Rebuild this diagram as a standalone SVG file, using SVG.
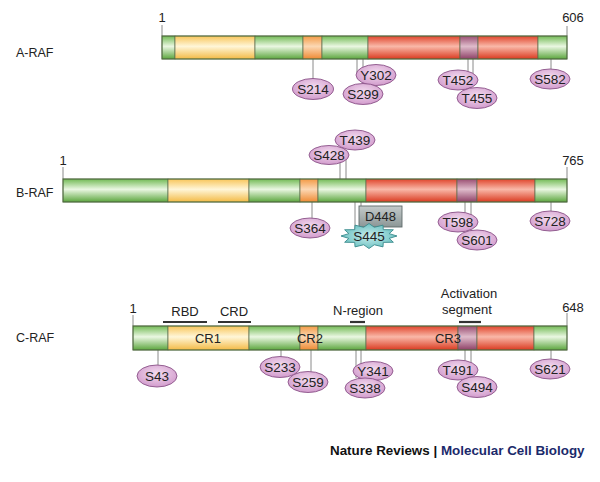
<svg xmlns="http://www.w3.org/2000/svg" width="600" height="482" viewBox="0 0 600 482">
<defs>
<linearGradient id="gG" x1="0" y1="0" x2="0" y2="1"><stop offset="0" stop-color="#72ba55"/><stop offset="0.45" stop-color="#eaf7e2"/><stop offset="1" stop-color="#5ca63e"/></linearGradient>
<linearGradient id="gY" x1="0" y1="0" x2="0" y2="1"><stop offset="0" stop-color="#f8c55a"/><stop offset="0.45" stop-color="#fff6d8"/><stop offset="1" stop-color="#f3ba45"/></linearGradient>
<linearGradient id="gO" x1="0" y1="0" x2="0" y2="1"><stop offset="0" stop-color="#f39a45"/><stop offset="0.45" stop-color="#fcd8b4"/><stop offset="1" stop-color="#ee8a33"/></linearGradient>
<linearGradient id="gR" x1="0" y1="0" x2="0" y2="1"><stop offset="0" stop-color="#e0452c"/><stop offset="0.45" stop-color="#f9b8a8"/><stop offset="1" stop-color="#da3a20"/></linearGradient>
<linearGradient id="gP" x1="0" y1="0" x2="0" y2="1"><stop offset="0" stop-color="#9a4e72"/><stop offset="0.45" stop-color="#dfbccb"/><stop offset="1" stop-color="#8e4066"/></linearGradient>
<radialGradient id="gE" cx="0.5" cy="0.4" r="0.6"><stop offset="0" stop-color="#f3dcef"/><stop offset="1" stop-color="#d29ccd"/></radialGradient>
<linearGradient id="gD" x1="0" y1="0" x2="0" y2="1"><stop offset="0" stop-color="#c4cbcb"/><stop offset="1" stop-color="#8c9696"/></linearGradient>
<radialGradient id="gS" cx="0.5" cy="0.5" r="0.6"><stop offset="0" stop-color="#c8ecec"/><stop offset="1" stop-color="#5fbcbc"/></radialGradient>
</defs>
<style>
.g{fill:url(#gG)} .y{fill:url(#gY)} .o{fill:url(#gO)} .r{fill:url(#gR)} .p{fill:url(#gP)}
.seg{stroke:#5a6a4a;stroke-width:0.7}
.out{fill:none;stroke:#4d6a3c;stroke-width:0.9}
.t{font-family:"Liberation Sans",Arial,sans-serif;font-size:12.5px;fill:#222}
.n{font-size:13px}
.s{font-size:13.5px}
.c{text-anchor:middle}
.e{fill:url(#gE);stroke:#8a5288;stroke-width:0.9}
.ln{stroke:#8a8a8a;stroke-width:1;fill:none}
.bar{stroke:#333;stroke-width:2.2}
</style>

<g id="connectors">
<line class="ln" x1="162" y1="25" x2="162" y2="36"/>
<line class="ln" x1="567" y1="26" x2="567" y2="36"/>
<line class="ln" x1="313" y1="59" x2="313" y2="82"/>
<line class="ln" x1="357" y1="59" x2="357" y2="74"/>
<line class="ln" x1="363" y1="59" x2="363" y2="72"/>
<line class="ln" x1="468" y1="59" x2="468" y2="80"/>
<line class="ln" x1="473" y1="59" x2="473" y2="80"/>
<line class="ln" x1="551" y1="59" x2="551" y2="74"/>

<line class="ln" x1="63" y1="167" x2="63" y2="179"/>
<line class="ln" x1="567" y1="167" x2="567" y2="179"/>
<line class="ln" x1="340" y1="179" x2="340" y2="156"/>
<line class="ln" x1="346" y1="179" x2="346" y2="150"/>
<line class="ln" x1="312" y1="202" x2="312" y2="222"/>
<line class="ln" x1="355" y1="202" x2="355" y2="230"/>
<line class="ln" x1="361" y1="202" x2="361" y2="210"/>
<line class="ln" x1="465" y1="202" x2="465" y2="222"/>
<line class="ln" x1="471" y1="202" x2="471" y2="225"/>
<line class="ln" x1="551" y1="202" x2="551" y2="216"/>

<line class="ln" x1="133" y1="315" x2="133" y2="326"/>
<line class="ln" x1="567" y1="313" x2="567" y2="326"/>
<line class="ln" x1="158" y1="350" x2="158" y2="370"/>
<line class="ln" x1="281" y1="350" x2="281" y2="362"/>
<line class="ln" x1="311" y1="350" x2="311" y2="378" stroke="#b0b0b0"/>
<line class="ln" x1="356" y1="350" x2="356" y2="378"/>
<line class="ln" x1="361" y1="350" x2="361" y2="372"/>
<line class="ln" x1="465" y1="350" x2="465" y2="372"/>
<line class="ln" x1="471" y1="350" x2="471" y2="375"/>
<line class="ln" x1="551" y1="350" x2="551" y2="364"/>
</g>

<g id="a-raf">
<text class="t" x="16" y="57">A-RAF</text>
<text class="t n c" x="162" y="22">1</text>
<text class="t n c" x="573" y="22">606</text>
<g class="seg">
<rect class="g" x="162" y="36" width="13" height="23"/>
<rect class="y" x="175" y="36" width="80" height="23"/>
<rect class="g" x="255" y="36" width="48" height="23"/>
<rect class="o" x="303" y="36" width="19" height="23"/>
<rect class="g" x="322" y="36" width="46" height="23"/>
<rect class="r" x="368" y="36" width="92" height="23"/>
<rect class="p" x="460" y="36" width="18" height="23"/>
<rect class="r" x="478" y="36" width="60" height="23"/>
<rect class="g" x="538" y="36" width="29" height="23"/>
</g>
<rect class="out" x="162" y="36" width="405" height="23"/>
<g id="a-S214"><ellipse class="e" cx="313" cy="89" rx="20.5" ry="10.5"/><text class="t s c" x="313" y="93.8">S214</text></g>
<g id="a-Y302"><ellipse class="e" cx="376" cy="75" rx="20" ry="10.5"/><text class="t s c" x="376" y="79.8">Y302</text></g>
<g id="a-S299"><ellipse class="e" cx="363" cy="94" rx="20" ry="10.5"/><text class="t s c" x="363" y="98.8">S299</text></g>
<g id="a-T452"><ellipse class="e" cx="458" cy="80" rx="20" ry="10"/><text class="t s c" x="458" y="84.8">T452</text></g>
<g id="a-T455"><ellipse class="e" cx="477" cy="98" rx="20" ry="10.5"/><text class="t s c" x="477" y="102.8">T455</text></g>
<g id="a-S582"><ellipse class="e" cx="550" cy="79" rx="20" ry="10"/><text class="t s c" x="550" y="83.8">S582</text></g>
</g>

<g id="b-raf">
<text class="t" x="16" y="197">B-RAF</text>
<text class="t n c" x="63" y="165">1</text>
<text class="t n c" x="573" y="165">765</text>
<g class="seg">
<rect class="g" x="63" y="179" width="105" height="23"/>
<rect class="y" x="168" y="179" width="81" height="23"/>
<rect class="g" x="249" y="179" width="51" height="23"/>
<rect class="o" x="300" y="179" width="18" height="23"/>
<rect class="g" x="318" y="179" width="48" height="23"/>
<rect class="r" x="366" y="179" width="91" height="23"/>
<rect class="p" x="457" y="179" width="20" height="23"/>
<rect class="r" x="477" y="179" width="58" height="23"/>
<rect class="g" x="535" y="179" width="32" height="23"/>
</g>
<rect class="out" x="63" y="179" width="504" height="23"/>
<g id="b-T439"><ellipse class="e" cx="355" cy="140" rx="20" ry="10"/><text class="t s c" x="355" y="144.8">T439</text></g>
<g id="b-S428"><ellipse class="e" cx="329" cy="155" rx="20" ry="9.5"/><text class="t s c" x="329" y="159.8">S428</text></g>
<g id="b-S364"><ellipse class="e" cx="310" cy="228" rx="20" ry="10"/><text class="t s c" x="310" y="232.8">S364</text></g>
<g id="b-D448"><rect x="359" y="206" width="43" height="21" fill="url(#gD)" stroke="#5f6a6a" stroke-width="0.9"/><text class="t n c" x="380.5" y="221.2">D448</text></g>
<g id="b-S445"><path transform="translate(369,236) scale(28,12.5)" vector-effect="non-scaling-stroke" fill="url(#gS)" stroke="#3a8a8c" stroke-width="0.9" d="M1,0 L0.72,0.19 L0.87,0.5 L0.51,0.51 L0.5,0.87 L0.19,0.7 L0,1 L-0.19,0.7 L-0.5,0.87 L-0.51,0.51 L-0.87,0.5 L-0.72,0.19 L-1,0 L-0.72,-0.19 L-0.87,-0.5 L-0.51,-0.51 L-0.5,-0.87 L-0.19,-0.7 L0,-1 L0.19,-0.7 L0.5,-0.87 L0.51,-0.51 L0.87,-0.5 L0.72,-0.19 Z"/><text class="t s c" x="369" y="240.8">S445</text></g>
<g id="b-T598"><ellipse class="e" cx="458" cy="222" rx="20" ry="10"/><text class="t s c" x="458" y="226.8">T598</text></g>
<g id="b-S601"><ellipse class="e" cx="477" cy="240" rx="20" ry="10"/><text class="t s c" x="477" y="244.8">S601</text></g>
<g id="b-S728"><ellipse class="e" cx="550" cy="221" rx="20" ry="10"/><text class="t s c" x="550" y="225.8">S728</text></g>
</g>

<g id="c-raf">
<text class="t" x="16" y="342">C-RAF</text>
<text class="t n c" x="133" y="313">1</text>
<text class="t n c" x="573" y="312">648</text>
<text class="t n c" x="185" y="316">RBD</text>
<line class="bar" x1="163" y1="322" x2="207" y2="322"/>
<text class="t n c" x="234" y="316">CRD</text>
<line class="bar" x1="218" y1="322" x2="251" y2="322"/>
<text class="t n c" x="358" y="315">N-region</text>
<line class="bar" x1="350" y1="322" x2="365" y2="322"/>
<text class="t n c" x="469" y="298">Activation</text>
<text class="t n c" x="467" y="314">segment</text>
<line class="bar" x1="459" y1="322" x2="481" y2="322"/>
<g class="seg">
<rect class="g" x="133" y="326" width="35" height="24"/>
<rect class="y" x="168" y="326" width="81" height="24"/>
<rect class="g" x="249" y="326" width="51" height="24"/>
<rect class="o" x="300" y="326" width="18" height="24"/>
<rect class="g" x="318" y="326" width="48" height="24"/>
<rect class="r" x="366" y="326" width="92" height="24"/>
<rect class="p" x="458" y="326" width="19" height="24"/>
<rect class="r" x="477" y="326" width="57" height="24"/>
<rect class="g" x="534" y="326" width="33" height="24"/>
</g>
<rect class="out" x="133" y="326" width="434" height="24"/>
<text class="t n c" x="208" y="343">CR1</text>
<text class="t n c" x="310" y="343">CR2</text>
<text class="t n c" x="448" y="343">CR3</text>
<g id="c-S43"><ellipse class="e" cx="157" cy="376" rx="20" ry="11"/><text class="t s c" x="157" y="380.8">S43</text></g>
<g id="c-S233"><ellipse class="e" cx="280" cy="367" rx="20" ry="10.5"/><text class="t s c" x="280" y="371.8">S233</text></g>
<g id="c-S259"><ellipse class="e" cx="308" cy="382" rx="20" ry="10.5"/><text class="t s c" x="308" y="386.8">S259</text></g>
<g id="c-Y341"><ellipse class="e" cx="373" cy="371" rx="20" ry="9.5"/><text class="t s c" x="373" y="375.8">Y341</text></g>
<g id="c-S338"><ellipse class="e" cx="365" cy="388" rx="20" ry="10"/><text class="t s c" x="365" y="392.8">S338</text></g>
<g id="c-T491"><ellipse class="e" cx="458" cy="370" rx="20" ry="10"/><text class="t s c" x="458" y="374.8">T491</text></g>
<g id="c-S494"><ellipse class="e" cx="477" cy="387" rx="20" ry="10.5"/><text class="t s c" x="477" y="391.8">S494</text></g>
<g id="c-S621"><ellipse class="e" cx="550" cy="369" rx="20" ry="10"/><text class="t s c" x="550" y="373.8">S621</text></g>
</g>

<text x="330" y="455" font-family="'Liberation Sans',Arial,sans-serif" font-size="13.4" font-weight="bold" fill="#111">Nature Reviews | <tspan fill="#1b2a6b">Molecular Cell Biology</tspan></text>
</svg>
